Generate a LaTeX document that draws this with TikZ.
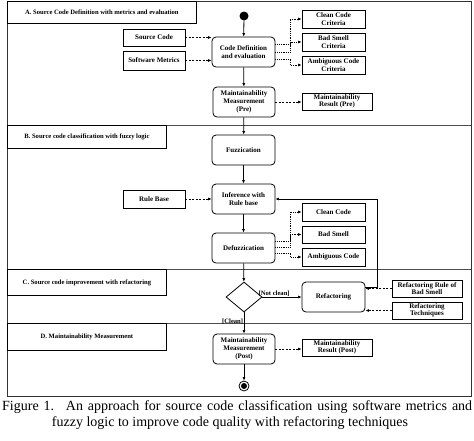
\documentclass[tikz,border=0pt]{standalone}
\usepackage{fontspec}
\setmainfont{Liberation Serif}
\usetikzlibrary{arrows.meta,shapes.geometric}
\tikzset{
  act/.style={draw, thick, rounded corners=4pt, align=center, font=\bfseries\fontsize{7}{8}\selectfont, inner sep=1pt, minimum width=63pt, minimum height=30pt},
  obj/.style={draw, thick, align=center, font=\bfseries\fontsize{7}{7.5}\selectfont, inner sep=0.5pt, minimum width=63pt, minimum height=18pt},
  sect/.style={draw, thick, anchor=north west, align=left, font=\bfseries\fontsize{6.6}{7.5}\selectfont, inner xsep=1.5pt, inner ysep=2pt, text height=5pt},
  flow/.style={thick, -{Latex[length=3.5pt,width=3pt]}},
  dflow/.style={thick, dash pattern=on 2pt off 1.5pt, -{Latex[length=3.5pt,width=3pt]}},
  pflow/.style={thick, densely dotted, -{Latex[length=3.5pt,width=3pt]}},
  lbl/.style={font=\bfseries\fontsize{6.6}{7.5}\selectfont, inner sep=0.5pt},
}
\begin{document}
\begin{tikzpicture}[x=1pt,y=-1pt]
\useasboundingbox[fill=white] (0,0) rectangle (474,440);
% frames
\draw[thick, black!80] (7,1) rectangle (471,396);
\draw[thick, black!70] (7,125) -- (471,125);
\draw[thick, black!70] (7,269) -- (471,269);
\draw[thick, black!70] (7,323) -- (471,323);
\node[sect, minimum width=189pt, minimum height=22pt] (secA) at (7,1) {A. Source Code Definition with metrics and evaluation};
\node[sect, minimum width=159pt, minimum height=23pt] (secB) at (7,125) {B. Source code classification with fuzzy logic};
\node[sect, minimum width=159pt, minimum height=26pt] (secC) at (7,269) {C. Source code improvement with refactoring};
\node[sect, minimum width=159pt, minimum height=27pt] (secD) at (7,323) {D. Maintainability Measurement};
% A
\node[circle, fill=black, minimum size=9pt, inner sep=0pt] (start) at (244,16) {};
\node[act] (codedef) at (243.5,52) {Code Definition\\and evaluation};
\node[obj, minimum width=62pt, minimum height=17pt] (src) at (154,37.5) {Source Code};
\node[obj, minimum width=62pt, minimum height=19pt] (swm) at (154,60.5) {Software Metrics};
\node[obj] (cc) at (333.5,19) {Clean Code\\Criteria};
\node[obj] (bc) at (333.5,42) {Bad Smell\\Criteria};
\node[obj] (ac) at (333.5,65) {Ambiguous Code\\Criteria};
\node[act, minimum width=62pt] (mmpre) at (244,102) {Maintainability\\Measurement\\(Pre)};
\node[obj, minimum width=70pt, minimum height=17pt] (mrpre) at (337,101.5) {Maintainability\\Result (Pre)};
\draw[flow] (start) -- (codedef);
\draw[dflow] (src.east) -- (src.east -| codedef.west);
\draw[dflow] (swm.east) -- (swm.east -| codedef.west);
\draw[pflow] ([yshift=8pt]codedef.east) -- ++(15,0) |- (cc.west);
\draw[pflow] (codedef.east) -- ++(15,0) |- (bc.west);
\draw[pflow] ([yshift=-7pt]codedef.east) -- ++(15,0) |- (ac.west);
\draw[flow] (codedef) -- (mmpre);
\draw[dflow] (mmpre.east) -- (mmpre.east -| mrpre.west);
% B
\node[act] (fuzz) at (243.5,150) {Fuzzication};
\node[act] (infer) at (243.5,199) {Inference with\\Rule base};
\node[obj, minimum width=62pt] (rb) at (154,199) {Rule Base};
\node[act] (defuzz) at (243.5,248) {Defuzzication};
\node[obj] (clean) at (333.5,212) {Clean Code};
\node[obj, minimum height=17pt] (bad) at (333.5,234.5) {Bad Smell};
\node[obj] (amb) at (333.5,257) {Ambiguous Code};
\draw[flow] (mmpre) -- (fuzz);
\draw[flow] (fuzz) -- (infer);
\draw[dflow] (rb.east) -- (infer.west);
\draw[flow] (infer) -- (defuzz);
\draw[pflow] ([yshift=7pt]defuzz.east) -- ++(15,0) |- (clean.west);
\draw[pflow] ([yshift=1pt]defuzz.east) -- ++(15,0) |- (bad.west);
\draw[pflow] ([yshift=-5pt]defuzz.east) -- ++(15,0) |- (amb.west);
% C
\node[diamond, draw, thick, minimum width=36pt, minimum height=30pt, inner sep=0pt] (dec) at (244,297) {};
\node[act] (refac) at (333.5,297) {Refactoring};
\node[obj, minimum width=70pt, minimum height=17pt] (rrbs) at (427,288.5) {Refactoring Rule of\\Bad Smell};
\node[obj, minimum width=70pt, minimum height=17pt] (rtech) at (427,310.5) {Refactoring\\Techniques};
\draw[flow] (defuzz) -- (dec);
\draw[flow] (dec.east) -- node[lbl, above, pos=0.3] {[Not clean]} (refac.west);
\draw[dflow] (rrbs.west) -- (rrbs.west -| refac.east);
\draw[dflow] (rtech.west) -- (rtech.west -| refac.east);
\draw[flow] ([yshift=10pt]refac.east) -- ++(12,0) |- (infer.east);
% D
\node[act, minimum width=62pt] (mmpost) at (244,349) {Maintainability\\Measurement\\(Post)};
\node[obj, minimum width=70pt, minimum height=17pt] (mrpost) at (337,347.5) {Maintainability\\Result (Post)};
\node[circle, draw, thick, minimum size=10pt, inner sep=0pt] (end) at (244,386) {};
\node[circle, fill=black, minimum size=6pt, inner sep=0pt] (endin) at (end.center) {};
\draw[flow] (dec.south) -- node[lbl, left, pos=0.45] {[Clean]} (mmpost.north);
\draw[dflow] (mmpost.east) -- (mmpost.east -| mrpost.west);
\draw[flow] (mmpost) -- (end);
% caption
\node[anchor=west, font=\fontsize{14}{16}\selectfont, inner sep=0pt] (cap1) at (2,407) {\hbox to 470pt{Figure 1.\hskip 10pt plus 2pt An approach for source code classification using software metrics and}};
\node[font=\fontsize{14}{16}\selectfont, inner sep=0pt] (cap2) at (230,423) {fuzzy logic to improve code quality with refactoring techniques};
\end{tikzpicture}
\end{document}
